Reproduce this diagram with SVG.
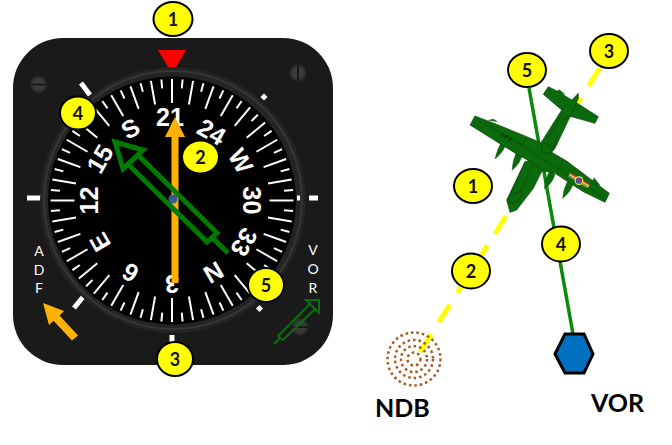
<svg xmlns="http://www.w3.org/2000/svg" width="672" height="445" viewBox="0 0 672 445">
<style>
text{font-family:"Liberation Sans",Arial,sans-serif}
.b{fill:#ff0;stroke:#000;stroke-width:2}
.n{font-family:Lato,"Liberation Sans",sans-serif;font-size:18px;font-weight:700;fill:#111;text-anchor:middle}
.d{font-size:25px;font-weight:700;fill:#fff;text-anchor:middle}
.l{font-family:Lato,"Liberation Sans",sans-serif;font-size:14px;fill:#fff;text-anchor:middle}
.t{stroke:#fff;stroke-linecap:butt}
.f{stroke:#fff;stroke-width:5}
.s{fill:#3a3a3a;stroke:#2c2c2c;stroke-width:2}
.sl{stroke:#1a1a1a;stroke-width:2}
.g{fill:none;stroke:#007a00;stroke-width:5}
.g2{fill:none;stroke:#0a6e0a;stroke-width:2}
.r{fill:none;stroke:#a85a20;stroke-width:2.500;stroke-dasharray:2.500 3}
.p{fill:#0b6a0b;stroke:#073f07;stroke-width:2}
.e{fill:#0b6a0b;stroke:#073f07;stroke-width:1}
.big{font-family:Lato,"Liberation Sans",sans-serif;font-size:25px;font-weight:700;fill:#000}
</style>
<defs>
<g id="t0"><line class="t" stroke-width="2" x1="172" y1="79" x2="172" y2="103"/><line class="t" stroke-width="2" x1="172" y1="79" x2="172" y2="88" transform="rotate(5 172 200.5)"/></g>
<g id="t1"><use href="#t0"/><use href="#t0" transform="rotate(10 172 200.5)"/><use href="#t0" transform="rotate(20 172 200.5)"/></g>
<g id="t2"><use href="#t1"/><use href="#t1" transform="rotate(30 172 200.5)"/><use href="#t1" transform="rotate(60 172 200.5)"/></g>
</defs>
<g id="instrument">
<rect x="13" y="38" width="320" height="327" rx="50" ry="50" fill="#1a1a1a"/>
<g id="screws">
<circle class="s" cx="38.500" cy="84.500" r="7.500"/><line class="sl" x1="31" y1="84.500" x2="46" y2="84.500"/>
<circle class="s" cx="298" cy="73" r="7.500"/><line class="sl" x1="298" y1="65" x2="298" y2="81"/>
<circle class="s" cx="300" cy="327" r="7.500"/><line class="sl" x1="292" y1="327" x2="308" y2="327"/>
</g>
<g id="fixed-marks">
<line class="f" x1="81" y1="83" x2="90" y2="95"/>
<rect x="261.500" y="94.500" width="5" height="5" fill="#fff" transform="rotate(45 264 97)"/>
<rect x="255" y="105" width="3" height="2" fill="#fff" transform="rotate(45 256 106)"/>
<line class="f" x1="27" y1="198" x2="41" y2="198"/>
<line class="f" x1="309" y1="198" x2="318" y2="198"/>
<line class="f" x1="74" y1="308" x2="83" y2="297"/>
<rect x="257" y="306" width="5" height="5" fill="#fff" transform="rotate(45 259.500 308.500)"/>
<line class="f" x1="172" y1="335" x2="172" y2="342"/>
</g>
<circle cx="173" cy="200" r="133" fill="#242424"/>
<circle cx="173" cy="200" r="129" fill="none" stroke="#363636" stroke-width="2"/>
<circle cx="172" cy="200.500" r="124" fill="#000"/>
<g id="ticks"><use href="#t2"/><use href="#t2" transform="rotate(90 172 200.500)"/><use href="#t2" transform="rotate(180 172 200.500)"/><use href="#t2" transform="rotate(270 172 200.500)"/></g>
<rect x="297" y="195.500" width="3" height="5" fill="#fff"/>
<g id="dial-labels">
<text class="d" x="170" y="126" transform="rotate(0 172 200.500)">21</text>
<text class="d" x="172" y="130" transform="rotate(30 172 200.500)">24</text>
<text class="d" x="172" y="130" transform="rotate(60 172 200.500)">W</text>
<text class="d" x="172" y="130" transform="rotate(90 172 200.500)">30</text>
<text class="d" x="172" y="126" transform="rotate(120 172 200.500)">33</text>
<text class="d" x="172" y="126" transform="rotate(150 172 200.500)">N</text>
<text class="d" x="172" y="126" transform="rotate(180 172 200.500)">3</text>
<text class="d" x="172" y="126" transform="rotate(210 172 200.500)">6</text>
<text class="d" x="172" y="126" transform="rotate(240 172 200.500)">E</text>
<text class="d" x="172" y="126" transform="rotate(270 172 200.500)">12</text>
<text class="d" x="172" y="126" transform="rotate(300 172 200.500)">15</text>
<text class="d" x="172" y="126" transform="rotate(330 172 200.500)">S</text>
</g>
<polygon id="lubber" points="158,50 186,50 176,67 168,67" fill="#f00"/>
<g id="adf-needle"><polygon fill="#ffb300" points="175,117 185,137 178.500,137 178.500,283 171.500,283 171.500,137 165,137"/></g>
<g id="vor-needle">
<polygon class="g" points="115,142 143,150 123,169"/>
<polygon class="g" points="128,164 138,155 217,233 207,242"/>
<line class="g" x1="212" y1="237.500" x2="228" y2="253"/>
</g>
<circle id="pivot" cx="173" cy="199" r="4.500" fill="#3b5b8c"/>
<g id="adf-label">
<text class="l" x="39" y="256">A</text><text class="l" x="39" y="275">D</text><text class="l" x="39" y="293">F</text>
<polygon fill="#ffb300" points="43,303 64,311 59.500,315.500 78,335.500 72,340.500 53.500,320.700 49,325"/>
</g>
<g id="vor-label">
<text class="l" x="313" y="255">V</text><text class="l" x="313" y="274">O</text><text class="l" x="313" y="293">R</text>
<polygon class="g2" points="319,300 306,300 319,313"/>
<polygon class="g2" points="310,304 315,309 283,340 278,336"/>
<line class="g2" x1="280" y1="338" x2="274" y2="344"/>
</g>
</g>
<g id="connectors">
<line x1="420" y1="352" x2="600" y2="68" stroke="#ff0" stroke-width="5" stroke-dasharray="21 14"/>
<line x1="529" y1="88" x2="573" y2="334" stroke="#0a8a0a" stroke-width="3.500"/>
</g>
<g id="ndb">
<circle class="r" cx="414" cy="359" r="26.500"/><circle class="r" cx="414" cy="359" r="19"/><circle class="r" cx="414" cy="359" r="13"/><circle class="r" cx="414" cy="359" r="6.500"/>
<text class="big" x="375" y="417">NDB</text>
</g>
<g id="vor">
<polygon points="555,354 565,334 584,334 593,354 584,373 565,373" fill="#0070c0" stroke="#000" stroke-width="3"/>
<text class="big" x="591" y="412">VOR</text>
</g>
<g id="aircraft" transform="translate(500 85) scale(.33333)">
<path class="p" d="M145,5 L130,28 L185,75 L215,95 L285,115 L295,95 L240,60 L215,45 L175,20 Z"/>
<path class="p" d="M125,170 L185,75 L222,38 L235,25 L235,40 L215,85 L165,190 Z"/>
<path class="e" d="M-15,222 Q-8,190 5,170 L18,178 Q8,205 -15,222Z"/>
<path class="e" d="M36,256 Q38,222 52,198 L68,208 Q60,238 36,256Z"/>
<path class="e" d="M133,312 Q135,280 150,258 L165,268 Q158,295 133,312Z"/>
<path class="e" d="M188,340 Q190,310 205,285 L220,295 Q212,322 188,340Z"/>
<path class="p" d="M30,382 L20,345 L75,230 L95,225 L130,250 L100,310 L50,375 Z"/>
<path class="p" d="M-75,93 L0,122 L80,155 L120,172 L160,205 L200,228 L328,325 L315,352 L250,320 L200,288 L165,265 L130,258 L100,235 L45,204 L-90,120 Z"/>
<path class="p" d="M125,170 L165,190 L150,207 L125,200 Z"/>
<path d="M80,155 L62,190 M190,225 L170,262 M-60,110 L60,175 L130,225 L310,335 M75,230 L30,330 M100,235 L55,330 M175,150 L155,200 M190,80 L145,160 M215,95 L185,105" fill="none" stroke="#073f07" stroke-width="1.500"/>
<path d="M25,340 Q40,320 70,320 L55,345 L35,358 Z" fill="#0b6a0b" stroke="#073f07" stroke-width="3" stroke-dasharray="4 3"/>
<path d="M-35,106 L-20,102 L-8,110 Z M275,295 L282,278 L300,300 Z M165,22 L178,14 L195,28 Z" fill="#0b6a0b" stroke="#073f07"/>
<line x1="208" y1="269" x2="266" y2="304" stroke="#ffe82a" stroke-width="11"/>
<line x1="211" y1="266" x2="267" y2="299" stroke="#d83a3a" stroke-width="4"/>
<line x1="207" y1="272" x2="263" y2="305" stroke="#3a55b0" stroke-width="3"/>
<circle cx="237" cy="287" r="13" fill="#ffe82a"/><circle cx="237" cy="287" r="9.500" fill="#3a55b0"/><circle cx="237" cy="287" r="5" fill="#e02040"/>
<text x="17" y="155" transform="rotate(207 17 155)" text-anchor="middle" font-size="20" font-weight="700" fill="#073f07" dy="7">FAV</text>
</g>
<g id="badge-1a"><ellipse class="b" cx="173" cy="19" rx="19.500" ry="17"/><text class="n" x="173" y="25.500">1</text></g>
<g id="badge-2a"><ellipse fill="#ff0" cx="200.500" cy="157" rx="17.500" ry="15.500"/><text class="n" x="200.500" y="163.500">2</text></g>
<g id="badge-3a"><ellipse class="b" cx="175" cy="359" rx="18" ry="17"/><text class="n" x="175" y="365.500">3</text></g>
<g id="badge-4a"><ellipse class="b" cx="78" cy="113" rx="18" ry="16.500"/><text class="n" x="78" y="119.500">4</text></g>
<g id="badge-5a"><ellipse class="b" cx="266" cy="285" rx="18" ry="17"/><text class="n" x="266" y="291.500">5</text></g>
<g id="badge-1b"><ellipse class="b" cx="473" cy="186" rx="19" ry="17"/><text class="n" x="473" y="192.500">1</text></g>
<g id="badge-2b"><ellipse class="b" cx="471" cy="271" rx="19" ry="17.500"/><text class="n" x="471" y="277.500">2</text></g>
<g id="badge-3b"><ellipse class="b" cx="609" cy="51" rx="19" ry="17"/><text class="n" x="609" y="57.500">3</text></g>
<g id="badge-4b"><ellipse class="b" cx="561" cy="244" rx="19" ry="17.500"/><text class="n" x="561" y="250.500">4</text></g>
<g id="badge-5b"><ellipse class="b" cx="527" cy="70" rx="19" ry="17"/><text class="n" x="527" y="76.500">5</text></g>
</svg>
